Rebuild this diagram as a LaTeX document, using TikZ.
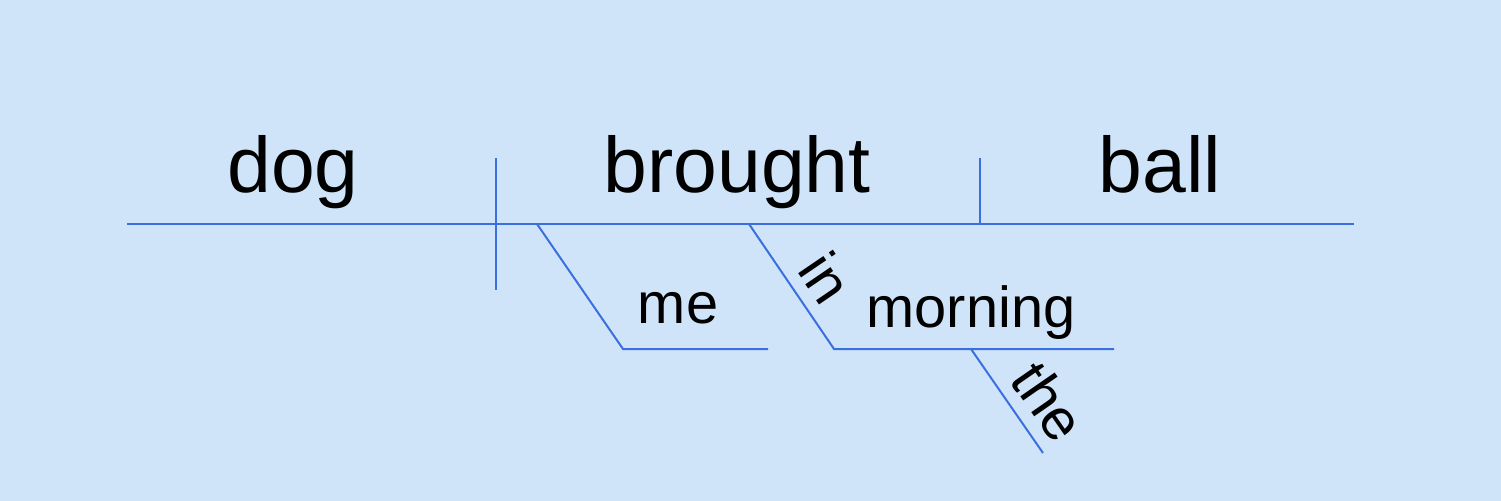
\documentclass[tikz,border=0pt]{standalone}
\usepackage{fontspec}
\setmainfont{Liberation Sans}
\usetikzlibrary{calc}
\definecolor{bgblue}{RGB}{208,228,249}
\definecolor{ruleblue}{RGB}{59,111,224}

\begin{document}
\begin{tikzpicture}[x=1bp,y=-1bp,
    rule/.style={ruleblue,line width=2bp},
    bigword/.style={font=\fontsize{79}{90}\selectfont,anchor=base,inner sep=0pt},
    smallword/.style={font=\fontsize{58}{70}\selectfont,anchor=base,inner sep=0pt},
    slantword/.style={font=\fontsize{58}{70}\selectfont,sloped,above,inner sep=12bp}]
    \fill[bgblue] (0,0) rectangle (1501,501);
    % base line and dividers
    \coordinate (baseL) at (127,224);
    \coordinate (baseR) at (1354,224);
    \coordinate (subjT) at (496,158);
    \coordinate (subjB) at (496,290);
    \coordinate (objT) at (980,158);
    \coordinate (objB) at (980,224);
    % modifiers
    \coordinate (meT) at (537,224);
    \coordinate (meB) at (623,349);
    \coordinate (meR) at (768,349);
    \coordinate (inT) at (749,224);
    \coordinate (inB) at (834,349);
    \coordinate (morningR) at (1114,349);
    \coordinate (theT) at (971,349);
    \coordinate (theB) at (1043,453);
    \begin{scope}[rule]
        \draw (baseL) -- (baseR);
        \draw (subjT) -- (subjB);
        \draw (objT) -- (objB);
        \draw (meT) -- (meB) -- (meR);
        \draw (inT) -- node[slantword,pos=0.58,text=black] {in} (inB) -- (morningR);
        \draw (theT) -- node[slantword,pos=0.69,text=black] {the} (theB);
    \end{scope}
    % words
    \node[bigword] (dog) at (293,193) {dog};
    \node[bigword] (brought) at (737,193) {brought};
    \node[bigword] (ball) at (1160,193) {ball};
    \node[smallword] (me) at (678,323) {me};
    \node[smallword] (morning) at (971,327) {morning};
\end{tikzpicture}
\end{document}
